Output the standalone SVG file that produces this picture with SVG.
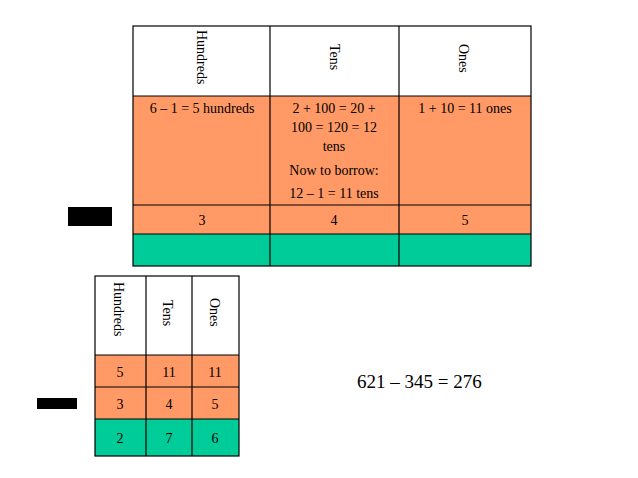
<svg xmlns="http://www.w3.org/2000/svg" width="638" height="478" viewBox="0 0 638 478">
<style>
text{font-family:"Liberation Serif",serif;font-size:14px;fill:#000}
.o{fill:#FF9966}.g{fill:#00CC99}.w{fill:#fff}
.ln{stroke:#000;stroke-width:1.2;fill:none}
.c{text-anchor:middle}
.v{text-anchor:start}
</style>
<rect width="638" height="478" fill="#fff"/>
<g id="top-table">
<rect class="w" x="133" y="26" width="398" height="70"/>
<rect class="o" x="133" y="96" width="398" height="138"/>
<rect class="g" x="133" y="234" width="398" height="32"/>
<path class="ln" d="M133 96H531M133 205H531M133 234H531M270 26V266M399 26V266"/>
<rect class="ln" x="133" y="26" width="398" height="240" stroke-width="2"/>
<text class="v" transform="translate(197,30) rotate(90)">Hundreds</text>
<text class="v" transform="translate(330,44) rotate(90)">Tens</text>
<text class="v" transform="translate(459,44) rotate(90)">Ones</text>
<text class="c" x="202" y="113">6 – 1 = 5 hundreds</text>
<text class="c" x="334" y="113">2 + 100 = 20 +</text>
<text class="c" x="334" y="132">100 = 120 = 12</text>
<text class="c" x="334" y="151">tens</text>
<text class="c" x="334" y="175">Now to borrow:</text>
<text class="c" x="334" y="198">12 – 1 = 11 tens</text>
<text class="c" x="465" y="113">1 + 10 = 11 ones</text>
<text class="c" x="202" y="225">3</text>
<text class="c" x="334" y="225">4</text>
<text class="c" x="465" y="225">5</text>
</g>
<g id="minus-top"><rect x="68" y="207" width="44" height="19" fill="#000"/></g>
<g id="bottom-table">
<rect class="w" x="95" y="276" width="144" height="79"/>
<rect class="o" x="95" y="355" width="144" height="64"/>
<rect class="g" x="95" y="419" width="144" height="37"/>
<path class="ln" d="M95 355H239M95 387H239M95 419H239M146 276V456M192 276V456"/>
<rect class="ln" x="95" y="276" width="144" height="180" stroke-width="2"/>
<text class="v" transform="translate(114,282) rotate(90)">Hundreds</text>
<text class="v" transform="translate(163,300) rotate(90)">Tens</text>
<text class="v" transform="translate(210,298) rotate(90)">Ones</text>
<text class="c" x="120" y="377">5</text><text class="c" x="169" y="377">11</text><text class="c" x="215" y="377">11</text>
<text class="c" x="120" y="409">3</text><text class="c" x="169" y="409">4</text><text class="c" x="215" y="409">5</text>
<text class="c" x="120" y="443">2</text><text class="c" x="169" y="443">7</text><text class="c" x="215" y="443">6</text>
</g>
<g id="minus-bottom"><rect x="37" y="398" width="40" height="11" fill="#000"/></g>
<g id="equation"><text x="357" y="388" style="font-size:19px">621 – 345 = 276</text></g>
</svg>
